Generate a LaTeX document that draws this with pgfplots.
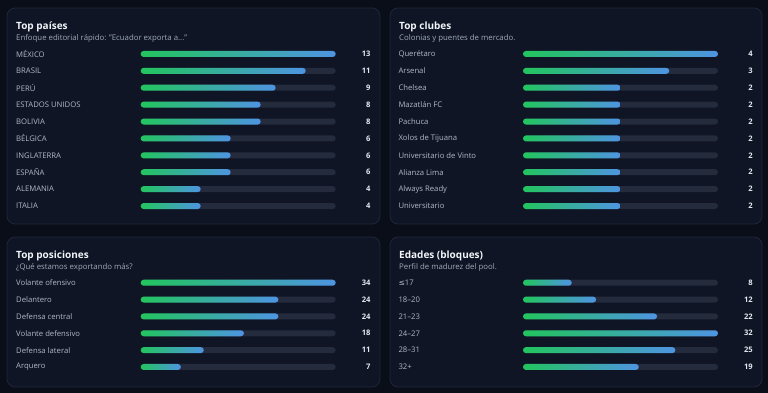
\documentclass[border=0pt]{standalone}
\usepackage{fontspec}
\setmainfont{Open Sans}
\newfontfamily\symfont{DejaVu Sans}
\usepackage{pgfplots}
\usepackage{pgfplotstable}
\pgfplotsset{compat=1.18}

\definecolor{pagebg}{RGB}{10,14,25}
\definecolor{panelbg}{RGB}{15,21,36}
\definecolor{panelborder}{RGB}{30,38,58}
\definecolor{trackc}{RGB}{36,43,61}
\definecolor{gA}{RGB}{34,197,94}
\definecolor{gB}{RGB}{78,148,226}
\definecolor{titlec}{RGB}{241,245,249}
\definecolor{subc}{RGB}{160,170,186}
\definecolor{labelc}{RGB}{176,184,198}
\definecolor{valc}{RGB}{226,232,240}

\pgfplotstableread[col sep=comma]{
y,label,val,full
0,MÉXICO,13,13
1,BRASIL,11,13
2,PERÚ,9,13
3,ESTADOS UNIDOS,8,13
4,BOLIVIA,8,13
5,BÉLGICA,6,13
6,INGLATERRA,6,13
7,ESPAÑA,6,13
8,ALEMANIA,4,13
9,ITALIA,4,13
}\paises

\pgfplotstableread[col sep=comma]{
y,label,val,full
0,Querétaro,4,4
1,Arsenal,3,4
2,Chelsea,2,4
3,Mazatlán FC,2,4
4,Pachuca,2,4
5,Xolos de Tijuana,2,4
6,Universitario de Vinto,2,4
7,Alianza Lima,2,4
8,Always Ready,2,4
9,Universitario,2,4
}\clubes

\pgfplotstableread[col sep=comma]{
y,label,val,full
0,Volante ofensivo,34,34
1,Delantero,24,34
2,Defensa central,24,34
3,Volante defensivo,18,34
4,Defensa lateral,11,34
5,Arquero,7,34
}\posiciones

\pgfplotstableread[col sep=comma]{
y,label,val,full
0,{{\symfont ≤}17},8,32
1,18–20,12,32
2,21–23,22,32
3,24–27,32,32
4,28–31,25,32
5,32+,19,32
}\edades

\pgfplotsset{
  panelbar/.style={
    xbar, bar width=6pt, bar shift=0pt,
    scale only axis, width=195pt,
    xmin=0, y dir=reverse,
    hide x axis,
    axis y line*=left, y axis line style={draw=none},
    major tick length=0pt,
    ytick=data,
    clip=false,
    /pgf/number format/assume math mode=true,
    yticklabel style={anchor=west, inner xsep=0pt, xshift=-124.7pt,
      font=\fontsize{7.7}{9}\selectfont, text=labelc},
  },
  trackbar/.style={draw=none, fill=trackc, rounded corners=3pt,
    point meta=explicit,
    nodes near coords,
    every node near coord/.style={anchor=east, inner sep=0pt, xshift=35pt,
      font=\fontsize{7.6}{9}\selectfont\bfseries, text=valc}},
  gradbar/.style={draw=none, left color=gA, right color=gB, rounded corners=3pt},
}

\begin{document}
\begin{tikzpicture}[x=1pt,y=1pt]
\fill[pagebg] (0,0) rectangle (768,393);
\useasboundingbox (0,0) rectangle (768,393);
% panels
\foreach \a/\b/\c/\d in {7/169/380/385, 390/169/762/385, 7/6/380/156, 390/6/762/156}{
  \filldraw[fill=panelbg, draw=panelborder, line width=0.8pt, rounded corners=8pt] (\a,\b) rectangle (\c,\d);
}
% titles
\node[anchor=west, inner sep=0pt, text=titlec, font=\fontsize{10}{12}\selectfont\bfseries] at (16,366.5) {Top países};
\node[anchor=west, inner sep=0pt, text=subc, font=\fontsize{7.8}{9}\selectfont] at (16,354.5) {Enfoque editorial rápido: "Ecuador exporta a..."};
\node[anchor=west, inner sep=0pt, text=titlec, font=\fontsize{10}{12}\selectfont\bfseries] at (399,366.5) {Top clubes};
\node[anchor=west, inner sep=0pt, text=subc, font=\fontsize{7.8}{9}\selectfont] at (399,354.5) {Colonias y puentes de mercado.};
\node[anchor=west, inner sep=0pt, text=titlec, font=\fontsize{10}{12}\selectfont\bfseries] at (16,137.5) {Top posiciones};
\node[anchor=west, inner sep=0pt, text=subc, font=\fontsize{7.8}{9}\selectfont] at (16,125.5) {¿Qué estamos exportando más?};
\node[anchor=west, inner sep=0pt, text=titlec, font=\fontsize{10}{12}\selectfont\bfseries] at (399,137.5) {Edades (bloques)};
\node[anchor=west, inner sep=0pt, text=subc, font=\fontsize{7.8}{9}\selectfont] at (399,125.5) {Perfil de madurez del pool.};

% Panel 1
\begin{axis}[panelbar, at={(140.7pt,178.5pt)}, anchor=south west, height=169pt,
  xmax=13, ymin=-0.5, ymax=9.5, yticklabels from table={\paises}{label}]
\addplot[trackbar] table[x=full, y=y, meta=val] {\paises};
\pgfplotsinvokeforeach{0,...,9}{
  \addplot[gradbar] table[x=val, y=y, restrict expr to domain={\coordindex}{#1:#1}] {\paises};
}
\end{axis}
% Panel 2
\begin{axis}[panelbar, at={(523pt,178.5pt)}, anchor=south west, height=169pt,
  xmax=4, ymin=-0.5, ymax=9.5, yticklabels from table={\clubes}{label}]
\addplot[trackbar] table[x=full, y=y, meta=val] {\clubes};
\pgfplotsinvokeforeach{0,...,9}{
  \addplot[gradbar] table[x=val, y=y, restrict expr to domain={\coordindex}{#1:#1}] {\clubes};
}
\end{axis}
% Panel 3
\begin{axis}[panelbar, at={(140.7pt,17.6pt)}, anchor=south west, height=101.1pt,
  xmax=34, ymin=-0.5, ymax=5.5, yticklabels from table={\posiciones}{label}]
\addplot[trackbar] table[x=full, y=y, meta=val] {\posiciones};
\pgfplotsinvokeforeach{0,...,5}{
  \addplot[gradbar] table[x=val, y=y, restrict expr to domain={\coordindex}{#1:#1}] {\posiciones};
}
\end{axis}
% Panel 4
\begin{axis}[panelbar, at={(523pt,17.6pt)}, anchor=south west, height=101.1pt,
  xmax=32, ymin=-0.5, ymax=5.5, yticklabels from table={\edades}{label}]
\addplot[trackbar] table[x=full, y=y, meta=val] {\edades};
\pgfplotsinvokeforeach{0,...,5}{
  \addplot[gradbar] table[x=val, y=y, restrict expr to domain={\coordindex}{#1:#1}] {\edades};
}
\end{axis}
\end{tikzpicture}
\end{document}
